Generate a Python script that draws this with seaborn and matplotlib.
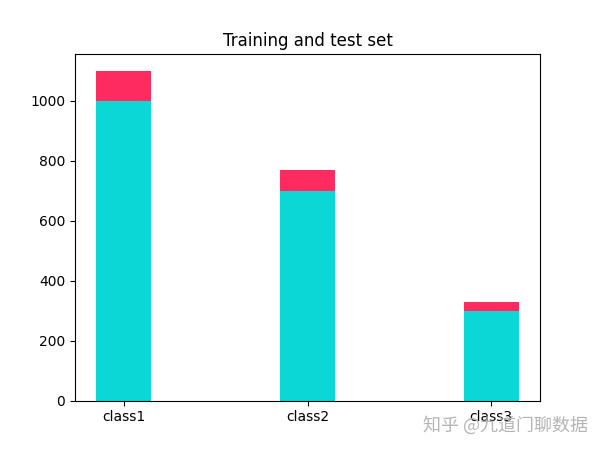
import matplotlib
matplotlib.use("Agg")
import matplotlib.pyplot as plt
import seaborn as sns
import pandas as pd

categories = ["class1", "class2", "class3"]
train_values = [1000, 700, 300]
test_values = [100, 70, 30]

totals = [a + b for a, b in zip(train_values, test_values)]
df = pd.DataFrame({"category": categories, "train": train_values, "total": totals})

fig, ax = plt.subplots(figsize=(6, 4.5), dpi=100)
sns.barplot(data=df, x="category", y="total", color="#fd2b5f", saturation=1,
            width=0.3, ax=ax)
sns.barplot(data=df, x="category", y="train", color="#0bd8d6", saturation=1,
            width=0.3, ax=ax)
ax.set_xlim(-0.265, 2.265)
ax.set_ylim(0, 1155)
ax.set_xlabel("")
ax.set_ylabel("")
ax.set_title("Training and test set")

fig.text(0.705, 0.043, "知乎 @九道门聊数据", fontsize=13, color="#b5b5b5",
         family=["Noto Sans CJK SC", "DejaVu Sans"])

fig.savefig("out.png", dpi=100)
